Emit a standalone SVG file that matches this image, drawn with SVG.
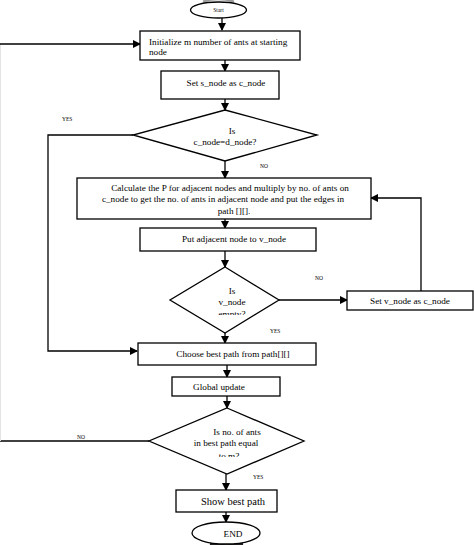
<svg xmlns="http://www.w3.org/2000/svg" width="474" height="545" viewBox="0 0 474 545">
<defs>
<marker id="ah" markerWidth="8" markerHeight="8" refX="7" refY="4" orient="auto" markerUnits="userSpaceOnUse">
<path d="M0,0 L8,4 L0,8 Z" fill="#000"/>
</marker>
<clipPath id="c2"><rect x="180" y="280" width="100" height="35"/></clipPath>
<clipPath id="c3"><rect x="150" y="420" width="150" height="37"/></clipPath>
</defs>
<style>
.b{fill:#fff;stroke:#000;stroke-width:1.3}
.t{font-family:"Liberation Serif",serif;font-size:9.2px;fill:#000}
.m{text-anchor:middle}
.l{font-family:"Liberation Serif",serif;font-size:5.5px;fill:#000}
.c{fill:none;stroke:#000;stroke-width:1.3}
</style>
<rect width="474" height="545" fill="#fff"/>
<g id="connectors">
<line class="c" x1="222" y1="18" x2="222" y2="30" marker-end="url(#ah)"/>
<line class="c" x1="225" y1="60" x2="225" y2="71" marker-end="url(#ah)"/>
<line class="c" x1="225" y1="99" x2="225" y2="110" marker-end="url(#ah)"/>
<line class="c" x1="225" y1="161" x2="225" y2="178" marker-end="url(#ah)"/>
<polyline class="c" points="133,135 48,135 48,351 137,351" marker-end="url(#ah)"/>
<line class="c" x1="225" y1="219" x2="225" y2="228" marker-end="url(#ah)"/>
<line class="c" x1="225" y1="251" x2="225" y2="267" marker-end="url(#ah)"/>
<line class="c" x1="279" y1="300" x2="347" y2="300" marker-end="url(#ah)"/>
<polyline class="c" points="421,291 421,198 371,198" marker-end="url(#ah)"/>
<line class="c" x1="225" y1="333" x2="225" y2="343" marker-end="url(#ah)"/>
<line class="c" x1="227" y1="365" x2="227" y2="377" marker-end="url(#ah)"/>
<line class="c" x1="227" y1="396" x2="227" y2="408" marker-end="url(#ah)"/>
<line class="c" x1="149" y1="441" x2="0" y2="441"/>
<line x1="0.5" y1="44" x2="0.5" y2="441" stroke="#e4e4e4" stroke-width="1"/>
<line class="c" x1="0" y1="44" x2="140" y2="44" marker-end="url(#ah)"/>
<line class="c" x1="226" y1="474" x2="226" y2="490" marker-end="url(#ah)"/>
<line class="c" x1="226" y1="512" x2="226" y2="522" marker-end="url(#ah)"/>
<text class="l" x="62" y="121">YES</text>
<text class="l" x="260" y="168">NO</text>
<text class="l" x="315" y="280">NO</text>
<text class="l" x="270" y="333">YES</text>
<text class="l" x="77" y="439">NO</text>
<text class="l" x="253" y="479">YES</text>
</g>
<g id="start">
<path d="M203,1.5 Q218,-3 234,1.5" fill="none" stroke="#999" stroke-width="2"/>
<ellipse class="b" cx="218.5" cy="10" rx="28" ry="8"/>
<text class="l m" x="218.5" y="12">Start</text>
</g>
<g id="init">
<rect class="b" x="140" y="31" width="160" height="29"/>
<text class="t" x="149" y="45">Initialize m number of ants at starting</text>
<text class="t" x="149" y="55">node</text>
</g>
<g id="set-s">
<rect class="b" x="161" y="71" width="118" height="28"/>
<text class="t m" x="226" y="86">Set s_node as c_node</text>
</g>
<g id="dec1">
<polygon class="b" points="225,110 317,135 225,161 133,135"/>
<text class="t m" x="232" y="134">Is</text>
<text class="t m" x="225" y="145">c_node=d_node?</text>
</g>
<g id="calc">
<rect class="b" x="77" y="178" width="294" height="41"/>
<text class="t m" x="230" y="191">Calculate the P for adjacent nodes and multiply by no. of ants on</text>
<text class="t m" x="223" y="202">c_node to get the no. of ants in adjacent node and put the edges in</text>
<text class="t m" x="234" y="214">path [][].</text>
</g>
<g id="put">
<rect class="b" x="140" y="228" width="176" height="23"/>
<text class="t m" x="234" y="242">Put adjacent node to v_node</text>
</g>
<g id="dec2">
<polygon class="b" points="225,267 279,300 225,333 170,300"/>
<g clip-path="url(#c2)">
<text class="t m" x="232" y="294">Is</text>
<text class="t m" x="232" y="305">v_node</text>
<text class="t m" x="232" y="317">empty?</text>
</g>
</g>
<g id="set-v">
<rect class="b" x="347" y="291" width="126" height="19"/>
<text class="t m" x="410" y="304">Set v_node as c_node</text>
</g>
<g id="choose">
<rect class="b" x="138" y="343" width="178" height="22"/>
<text class="t m" x="233" y="357">Choose best path from path[][]</text>
</g>
<g id="global">
<rect class="b" x="172" y="377" width="108" height="19"/>
<text class="t m" x="219" y="390">Global update</text>
</g>
<g id="dec3">
<polygon class="b" points="227,408 304,441 227,474 149,441"/>
<g clip-path="url(#c3)">
<text class="t m" x="237" y="435">Is no. of ants</text>
<text class="t m" x="226" y="446">in best path equal</text>
<text class="t m" x="229" y="459">to m?</text>
</g>
</g>
<g id="show">
<rect class="b" x="176" y="490" width="101" height="22"/>
<text class="t m" x="233" y="505" style="font-size:10.5px">Show best path</text>
</g>
<g id="end">
<path d="M210,544 Q226,547 243,544" fill="none" stroke="#222" stroke-width="2.5"/>
<ellipse class="b" cx="226" cy="533" rx="34" ry="11"/>
<text class="t m" x="233" y="537">END</text>
</g>
</svg>
